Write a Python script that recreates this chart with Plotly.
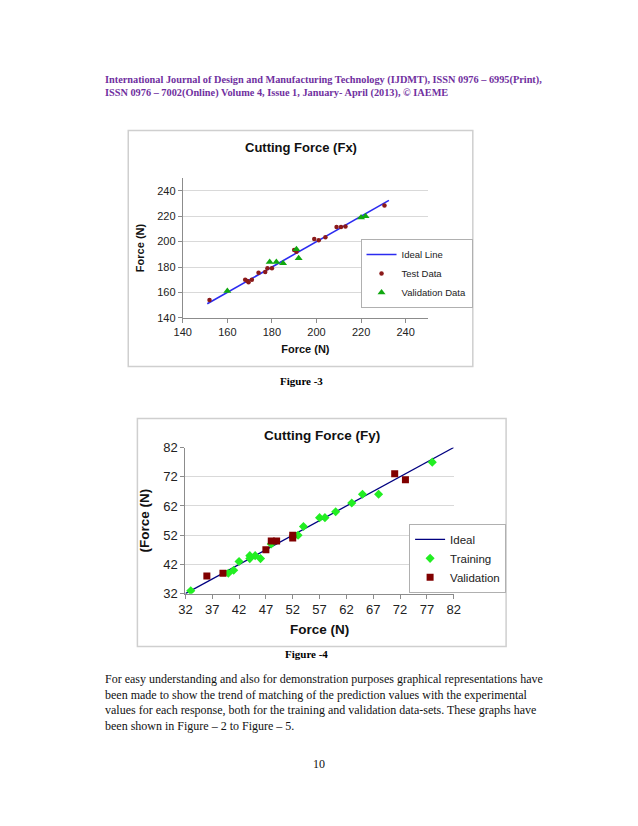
import plotly.graph_objects as go

# The figure sits inside the browser's default 8px body margin; it is kept
# smaller than the window so that the page never overflows (no scrollbars).
OFF = 8
W, H = 600, 780

# ---------------- data: Figure 3 (Cutting Force Fx) ----------------
fx_test_x = [152, 168, 169, 169.5, 171, 174, 177, 178, 180, 190, 191, 199, 201, 204, 209, 211, 213, 230.5]
fx_test_y = [154, 170, 169, 168, 170, 175.5, 176, 179, 179, 193.5, 192, 202, 201, 203.5, 211.5, 211.5, 212, 228.5]
fx_val_x = [160, 179, 182, 185, 191, 192, 220, 222]
fx_val_y = [161, 184, 184, 183, 194, 187, 219, 220]
fx_ideal = [151, 232.5]
fx_ticks = [140, 160, 180, 200, 220, 240]

# ---------------- data: Figure 4 (Cutting Force Fy) ----------------
fy_train_x = [33, 40, 41, 42, 44, 44, 45, 46, 48, 53, 54, 57, 58, 60, 63, 65, 68, 78]
fy_train_y = [33, 39, 40, 43, 45, 44, 45, 44, 49, 52, 55, 58, 58, 60, 63, 66, 66, 77]
fy_val_x = [36, 39, 47, 48, 49, 52, 52, 71, 73]
fy_val_y = [38, 39, 47, 50, 50, 52, 51, 73, 71]
fy_ideal = [32, 82]
fy_xticks = [32, 37, 42, 47, 52, 57, 62, 67, 72, 77, 82]
fy_yticks = [32, 42, 52, 62, 72, 82]

header_lines = [
    "International Journal of Design and Manufacturing Technology (IJDMT), ISSN 0976 \u2013 6995(Print),",
    "ISSN 0976 \u2013 7002(Online) Volume 4, Issue 1, January- April (2013), \u00a9 IAEME",
]
paragraph_lines = [
    "For easy understanding and also for demonstration purposes graphical representations have",
    "been made to show the trend of matching of the prediction values with the experimental",
    "values for each response, both for the training and validation data-sets. These graphs have",
    "been shown in Figure \u2013 2 to Figure \u2013 5.",
]


def px(x):
    return (x - OFF) / W


def py(y):
    return 1 - (y - OFF) / H


SANS = "Liberation Sans, Arial, sans-serif"
SERIF = "Liberation Serif, Times New Roman, serif"

fig = go.Figure()

# Chart 1 traces
fig.add_trace(go.Scatter(x=fx_ideal, y=fx_ideal, mode="lines", name="Ideal Line",
                         line=dict(color="#2b2bf0", width=1.6), xaxis="x", yaxis="y", legend="legend"))
fig.add_trace(go.Scatter(x=fx_test_x, y=fx_test_y, mode="markers", name="Test Data",
                         marker=dict(symbol="circle", size=4.5, color="#8b1a1a"), xaxis="x", yaxis="y", legend="legend"))
fig.add_trace(go.Scatter(x=fx_val_x, y=fx_val_y, mode="markers", name="Validation Data",
                         marker=dict(symbol="triangle-up", size=7, color="#10a810"), xaxis="x", yaxis="y", legend="legend"))

# Chart 2 traces
fig.add_trace(go.Scatter(x=fy_ideal, y=fy_ideal, mode="lines", name="Ideal",
                         line=dict(color="#000080", width=1.3), xaxis="x2", yaxis="y2", legend="legend2"))
fig.add_trace(go.Scatter(x=fy_train_x, y=fy_train_y, mode="markers", name="Training",
                         marker=dict(symbol="diamond", size=7, color="#22ee22"), xaxis="x2", yaxis="y2", legend="legend2"))
fig.add_trace(go.Scatter(x=fy_val_x, y=fy_val_y, mode="markers", name="Validation",
                         marker=dict(symbol="square", size=7, color="#800000"), xaxis="x2", yaxis="y2", legend="legend2"))

axis_common = dict(showline=True, linecolor="#8c8c8c", linewidth=1, ticks="outside", ticklen=4,
                   tickcolor="#8c8c8c", zeroline=False, fixedrange=True)

fig.update_layout(
    width=W, height=H, autosize=False,
    margin=dict(l=0, r=0, t=0, b=0),
    paper_bgcolor="white", plot_bgcolor="white",
    showlegend=True,
    xaxis=dict(domain=[px(178.3), px(430.2)], anchor="y", range=[140, 250], tickvals=fx_ticks,
               showgrid=False, tickfont=dict(family=SANS, size=11, color="#222"),
               title=dict(text="<b>Force (N)</b>", font=dict(family=SANS, size=11, color="#111"), standoff=8),
               **axis_common),
    yaxis=dict(domain=[py(316.7), py(174.4)], anchor="x", range=[140, 250], tickvals=fx_ticks,
               showgrid=True, gridcolor="#d9d9d9", tickfont=dict(family=SANS, size=11, color="#222"),
               title=dict(text="<b>Force (N)</b>", font=dict(family=SANS, size=11, color="#111"), standoff=10),
               **axis_common),
    xaxis2=dict(domain=[px(181), px(456.7)], anchor="y2", range=[32, 82], tickvals=fy_xticks,
                showgrid=False, tickfont=dict(family=SANS, size=13, color="#222"),
                title=dict(text="<b>Force (N)</b>", font=dict(family=SANS, size=13.5, color="#111"), standoff=8),
                **axis_common),
    yaxis2=dict(domain=[py(598), py(449)], anchor="x2", range=[32, 82], tickvals=fy_yticks,
                showgrid=True, gridcolor="#d9d9d9", tickfont=dict(family=SANS, size=13, color="#222"),
                title=dict(text="<b>(Force (N)</b>", font=dict(family=SANS, size=13.5, color="#111"), standoff=10),
                **axis_common),
    legend=dict(x=px(476), xanchor="right", y=py(271.5), yanchor="middle",
                bgcolor="white", bordercolor="#b0b0b0", borderwidth=1,
                font=dict(family=SANS, size=9.5, color="#222"), itemwidth=30, tracegroupgap=0),
    legend2=dict(x=px(510.5), xanchor="right", y=py(562), yanchor="middle",
                 bgcolor="white", bordercolor="#b0b0b0", borderwidth=1,
                 font=dict(family=SANS, size=11.5, color="#222"), itemwidth=30, tracegroupgap=0),
)

# chart frames
fig.add_shape(type="rect", xref="paper", yref="paper", x0=px(122.3), x1=px(476.3), y0=py(366.5), y1=py(125.8),
              line=dict(color="#cfcfcf", width=1.5), layer="below")
fig.add_shape(type="rect", xref="paper", yref="paper", x0=px(131.7), x1=px(510.5), y0=py(652), y1=py(419.3),
              line=dict(color="#cfcfcf", width=1.5), layer="below")

annotations = []


def add_text(text, x, y, size, family, color="#000", xanchor="center", bold=False):
    t = f"<b>{text}</b>" if bold else text
    annotations.append(dict(text=t, x=px(x), y=py(y), xref="paper", yref="paper",
                            xanchor=xanchor, yanchor="middle", showarrow=False,
                            font=dict(family=family, size=size, color=color)))


# chart titles
add_text("Cutting Force (Fx)", 300, 143, 13, SANS, "#111", bold=True)
add_text("Cutting Force (Fy)", 321.7, 436.7, 13.5, SANS, "#111", bold=True)

# page header
add_text(header_lines[0], 96, 74, 10.3, SERIF, "#7030a0", xanchor="left", bold=True)
add_text(header_lines[1], 96, 88, 10.3, SERIF, "#7030a0", xanchor="left", bold=True)

# captions
add_text("Figure -3", 300, 381, 11, SERIF, "#000", bold=True)
add_text("Figure -4", 305, 660, 11, SERIF, "#000", bold=True)

# paragraph
for i, line in enumerate(paragraph_lines):
    add_text(line, 96, 685 + 16 * i, 12, SERIF, "#111", xanchor="left")

add_text("10", 318, 772, 12, SERIF, "#111")

fig.update_layout(annotations=annotations)

fig.write_html("out.html", config={"displayModeBar": False})
